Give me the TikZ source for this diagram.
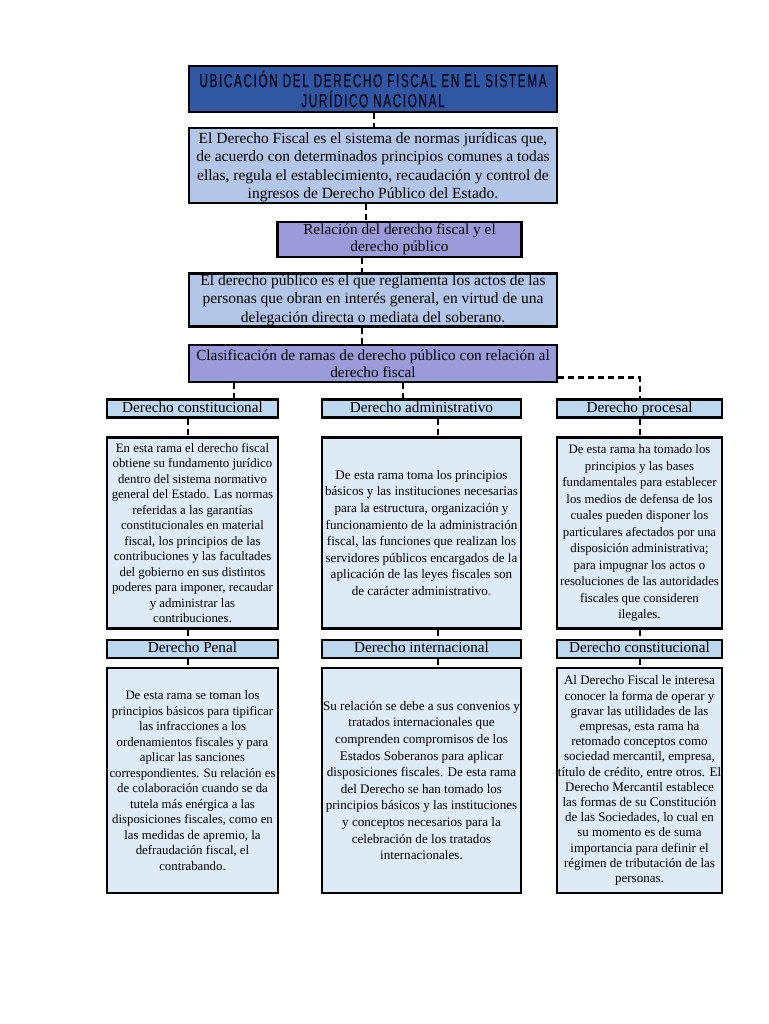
\documentclass[tikz,border=0pt]{standalone}
\usepackage{fontspec}
\setmainfont{Liberation Serif}
\newfontfamily\titlefont[FakeStretch=0.62,LetterSpace=8.5,FakeBold=1]{Liberation Sans}
\usepackage{xcolor}
\usepackage{tikz}
\usetikzlibrary{positioning}
\definecolor{azultitulo}{HTML}{3257A2}
\definecolor{azulclaro}{HTML}{B4C6E8}
\definecolor{morado}{HTML}{9C9BD9}
\definecolor{azulrama}{HTML}{BDD7EE}
\definecolor{azultexto}{HTML}{DEEBF7}
\definecolor{tinta}{HTML}{0C0C28}
\tikzset{
    caja/.style={
      rectangle,
      draw=black, line width=2.4pt,
      inner sep=1pt,
      align=center,
      text=black,
    },
    titulo/.style={caja, fill=azultitulo, text=tinta,
      minimum width=368pt, minimum height=46pt,
      font=\titlefont\fontsize{19}{19}\selectfont},
    bloque/.style={caja, fill=azulclaro, minimum width=368pt,
      font=\fontsize{15.5}{18.5}\selectfont},
    enlacebox/.style={caja, fill=morado,
      font=\fontsize{15.3}{17}\selectfont},
    rama/.style={caja, fill=azulrama, minimum height=18pt,
      text height=10.5pt, text depth=3pt,
      font=\fontsize{15.2}{16}\selectfont},
    texto/.style={caja, fill=azultexto,
      font=\fontsize{12.8}{15.5}\selectfont},
    textogrande/.style={texto, font=\fontsize{13.1}{16.6}\selectfont},
    enlace/.style={draw=black, line width=2.6pt, dash pattern=on 6pt off 4pt},
}

\begin{document}
\begin{tikzpicture}[x=1pt,y=-1pt]

    \useasboundingbox[fill=white] (0,0) rectangle (768,1024);

    \node[titulo] (Titulo) at (373,89)
    {
      UBICACIÓN DEL DERECHO FISCAL EN EL SISTEMA\\[1pt]
      JURÍDICO NACIONAL
    };

    \node[bloque, minimum height=75pt] (Definicion) at (373,165.5)
    {
      \rule{0pt}{14pt}El Derecho Fiscal es el sistema de normas jurídicas que,\\
      de acuerdo con determinados principios comunes a todas\\
      ellas, regula el establecimiento, recaudación y control de\\
      ingresos de Derecho Público del Estado.
    };

    \node[enlacebox, minimum width=244pt, minimum height=35pt] (Relacion) at (399.5,239.5)
    {
      Relación del derecho fiscal y el\\
      derecho público
    };

    \node[bloque, minimum height=53pt] (Publico) at (373,300)
    {
      El derecho público es el que reglamenta los actos de las\\
      personas que obran en interés general, en virtud de una\\
      delegación directa o mediata del soberano.
    };

    \node[enlacebox, minimum width=368pt, minimum height=37pt] (Clasif) at (373,363.5)
    {
      Clasificación de ramas de derecho público con relación al\\
      derecho fiscal
    };

    % primera fila de ramas
    \node[rama, minimum width=171pt] (Constit) at (192.5,408.5) {Derecho constitucional};
    \node[rama, minimum width=199pt] (Admin) at (421.5,408.5) {Derecho administrativo};
    \node[rama, minimum width=165pt] (Procesal) at (639.5,408.5) {Derecho procesal};

    \node[texto, minimum width=171pt, minimum height=191pt] (TConstit) at (192.5,533)
    {
      En esta rama el derecho fiscal\\
      obtiene su fundamento jurídico\\
      dentro del sistema normativo\\
      general del Estado. Las normas\\
      referidas a las garantías\\
      constitucionales en material\\
      fiscal, los principios de las\\
      contribuciones y las facultades\\
      del gobierno en sus distintos\\
      poderes para imponer, recaudar\\
      y administrar las\\
      contribuciones.
    };

    \node[textogrande, minimum width=199pt, minimum height=191pt] (TAdmin) at (421.5,533)
    {
      De esta rama toma los principios\\
      básicos y las instituciones necesarias\\
      para la estructura, organización y\\
      funcionamiento de la administración\\
      fiscal, las funciones que realizan los\\
      servidores públicos encargados de la\\
      aplicación de las leyes fiscales son\\
      de carácter administrativo.
    };

    \node[textogrande, minimum width=165pt, minimum height=191pt,
      font=\fontsize{12.8}{16.5}\selectfont] (TProcesal) at (639.5,533)
    {
      De esta rama ha tomado los\\
      principios y las bases\\
      fundamentales para establecer\\
      los medios de defensa de los\\
      cuales pueden disponer los\\
      particulares afectados por una\\
      disposición administrativa;\\
      para impugnar los actos o\\
      resoluciones de las autoridades\\
      fiscales que consideren\\
      ilegales.
    };

    % segunda fila de ramas
    \node[rama, minimum width=171pt] (Penal) at (192.5,649) {Derecho Penal};
    \node[rama, minimum width=199pt] (Internac) at (421.5,649) {Derecho internacional};
    \node[rama, minimum width=165pt] (Constit2) at (639.5,649) {Derecho constitucional};

    \node[texto, minimum width=171pt, minimum height=225pt] (TPenal) at (192.5,780.5)
    {
      De esta rama se toman los\\
      principios básicos para tipificar\\
      las infracciones a los\\
      ordenamientos fiscales y para\\
      aplicar las sanciones\\
      correspondientes. Su relación es\\
      de colaboración cuando se da\\
      tutela más enérgica a las\\
      disposiciones fiscales, como en\\
      las medidas de apremio, la\\
      defraudación fiscal, el\\
      contrabando.
    };

    \node[textogrande, minimum width=199pt, minimum height=225pt] (TInternac) at (421.5,780.5)
    {
      Su relación se debe a sus convenios y\\
      tratados internacionales que\\
      comprenden compromisos de los\\
      Estados Soberanos para aplicar\\
      disposiciones fiscales. De esta rama\\
      del Derecho se han tomado los\\
      principios básicos y las instituciones\\
      y conceptos necesarios para la\\
      celebración de los tratados\\
      internacionales.
    };

    \node[texto, minimum width=165pt, minimum height=225pt,
      font=\fontsize{13}{15.2}\selectfont] (TConstit2) at (639.5,780.5)
    {
      Al Derecho Fiscal le interesa\\
      conocer la forma de operar y\\
      gravar las utilidades de las\\
      empresas, esta rama ha\\
      retomado conceptos como\\
      sociedad mercantil, empresa,\\
      título de crédito, entre otros. El\\
      Derecho Mercantil establece\\
      las formas de su Constitución\\
      de las Sociedades, lo cual en\\
      su momento es de suma\\
      importancia para definir el\\
      régimen de tributación de las\\
      personas.
    };

    \coordinate (xa) at (374,0);
    \coordinate (xb) at (366,0);
    \coordinate (xc) at (362,0);
    \coordinate (xd) at (234,0);
    \coordinate (xe) at (403,0);
    \coordinate (xf) at (188,0);
    \coordinate (xg) at (438,0);
    \coordinate (xh) at (640,0);

    \path
    (Titulo.south -| xa) edge[enlace] (Definicion.north -| xa)
    (Definicion.south -| xb) edge[enlace] (Relacion.north -| xb)
    (Relacion.south -| xc) edge[enlace] (Publico.north -| xc)
    (Publico.south -| xc) edge[enlace] (Clasif.north -| xc)
    (Clasif.south -| xd) edge[enlace] (Constit.north -| xd)
    (Clasif.south -| xe) edge[enlace] (Admin.north -| xe)
    ([yshift=-14pt]Clasif.east) edge[enlace, to path={-| (\tikztotarget)}] (Procesal.north -| xh)
    (Constit.south -| xf) edge[enlace] (TConstit.north -| xf)
    (Admin.south -| xg) edge[enlace] (TAdmin.north -| xg)
    (Procesal.south -| xh) edge[enlace] (TProcesal.north -| xh)
    (TConstit.south -| xf) edge[enlace] (Penal.north -| xf)
    (TAdmin.south -| xg) edge[enlace] (Internac.north -| xg)
    (TProcesal.south -| xh) edge[enlace] (Constit2.north -| xh)
    (Penal.south -| xf) edge[enlace] (TPenal.north -| xf)
    (Internac.south -| xg) edge[enlace] (TInternac.north -| xg)
    (Constit2.south -| xh) edge[enlace] (TConstit2.north -| xh)
    ;
\end{tikzpicture}
\end{document}
